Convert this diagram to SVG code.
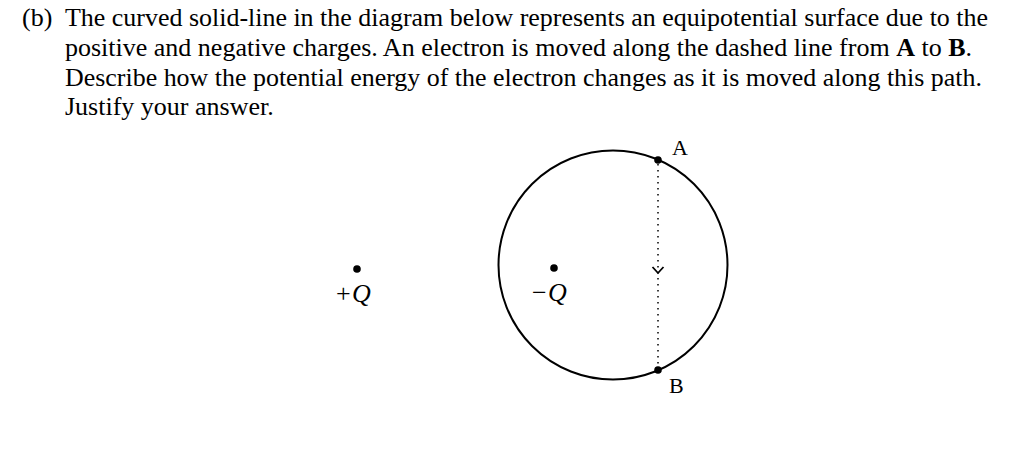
<svg xmlns="http://www.w3.org/2000/svg" width="1024" height="449" viewBox="0 0 1024 449">
<style>
.t{font-family:"Liberation Serif","Times New Roman",serif;font-size:26px;fill:#000}
.lbl{font-family:"Liberation Serif","Times New Roman",serif;font-size:22px;fill:#000}
.q{font-family:"Liberation Serif","Times New Roman",serif;font-size:26px;fill:#000}
.qi{font-style:italic}
</style>
<rect width="1024" height="449" fill="#fff"/>
<g id="question">
<text class="t" x="22" y="26">(b)</text>
<text class="t" x="65" y="26" textLength="923" lengthAdjust="spacingAndGlyphs">The curved solid-line in the diagram below represents an equipotential surface due to the</text>
<text class="t" x="65" y="56" textLength="907" lengthAdjust="spacingAndGlyphs">positive and negative charges. An electron is moved along the dashed line from <tspan font-weight="bold">A</tspan> to <tspan font-weight="bold">B</tspan>.</text>
<text class="t" x="65" y="86" textLength="917" lengthAdjust="spacingAndGlyphs">Describe how the potential energy of the electron changes as it is moved along this path.</text>
<text class="t" x="65" y="115">Justify your answer.</text>
</g>
<g id="equipotential">
<circle cx="613" cy="265" r="114.5" fill="none" stroke="#000" stroke-width="2"/>
</g>
<g id="plusQ">
<circle cx="357" cy="269" r="3.8" fill="#000"/>
<text class="q" x="336" y="302">+</text>
<text class="q qi" x="352" y="302">Q</text>
</g>
<g id="minusQ">
<circle cx="554" cy="268" r="3.8" fill="#000"/>
<text class="q" x="532" y="301">−</text>
<text class="q qi" x="548" y="301">Q</text>
</g>
<g id="A">
<circle cx="658" cy="160" r="3.8" fill="#000"/>
<text class="lbl" x="672" y="155">A</text>
</g>
<g id="B">
<circle cx="658" cy="370" r="3.8" fill="#000"/>
<text class="lbl" x="669" y="393">B</text>
</g>
<g id="connectors">
<line x1="658" y1="164" x2="658" y2="366" stroke="#000" stroke-width="1.5" stroke-dasharray="1.5 4.5"/>
<polyline points="652.5,267 658,273 663.5,267" fill="none" stroke="#000" stroke-width="1.8"/>
</g>
</svg>
